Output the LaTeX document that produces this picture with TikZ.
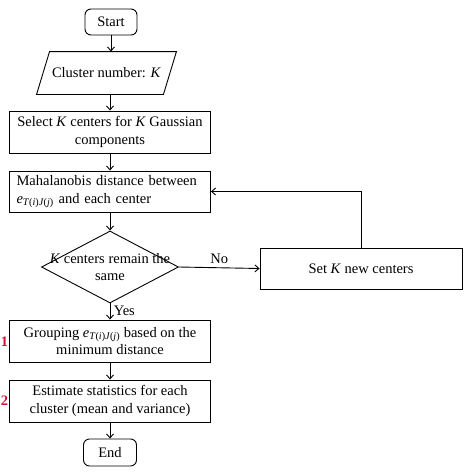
\documentclass[tikz,border=0pt]{standalone}
\usepackage{fontspec}
\setmainfont{Liberation Serif}
\usepackage{tikz}
\usetikzlibrary{shapes.geometric,arrows.meta}
\definecolor{stepred}{RGB}{210,20,60}
\newcommand{\eTJ}{\textit{e}\textsubscript{\textit{T}(\textit{i})\textit{J}(\textit{j})}}

\begin{document}
\begin{tikzpicture}[x=1pt,y=-1pt,
        font=\fontsize{14.5}{17.5}\selectfont,
        every path/.style={line width=0.9pt},
        terminal/.style={draw, rounded corners=6pt, minimum width=52pt, minimum height=26pt, inner sep=0pt},
        inputbox/.style={minimum width=139pt, minimum height=42pt, inner sep=0pt},
        process/.style={draw, minimum width=201pt, minimum height=42pt, inner sep=0pt, align=center},
        decision/.style={draw, diamond, minimum width=137pt, minimum height=72pt, inner sep=0pt},
        arrow/.style={-{Straight Barb[length=4pt,width=7pt]}},
        stepnum/.style={text=stepred, inner sep=0pt, anchor=west, font=\fontsize{14.5}{17.5}\selectfont\bfseries}]
        \useasboundingbox (0,0) rectangle (474,474);
        % nodes
        \node[terminal] (start) at (111,22) {Start};
        \node[inputbox] (input) at (106.5,73) {Cluster number: \textit{K}};
        \draw ([xshift=13pt]input.north west) -- (input.north east) -- ([xshift=-13pt]input.south east) -- (input.south west) -- cycle;
        \node[process] (select) at (110,132) {Select \textit{K} centers for \textit{K} Gaussian\\components};
        \node[process, align=left, text width=187pt, minimum height=41pt] (maha) at (110,191.5) {Mahalanobis distance between\\\eTJ{} and each center};
        \node[decision, label={[align=center]center:\textit{K} centers remain the\\same}] (check) at (110,267) {};
        \node[process, minimum width=202pt, minimum height=41pt] (newk) at (361,268.5) {Set \textit{K} new centers};
        \node[process] (group) at (110,341) {Grouping \eTJ{} based on the\\minimum distance};
        \node[process] (estim) at (110,401) {Estimate statistics for each\\cluster (mean and variance)};
        \node[terminal, minimum width=53pt, minimum height=27pt] (end) at (110,452.5) {End};
        \node[stepnum] (num1) at (0.5,342) {1};
        \node[stepnum] (num2) at (0.5,401) {2};
        % connectors
        \draw[arrow] (start.south) -- (start.south |- input.north);
        \draw[arrow] (input.south -| select.north) -- (select.north);
        \draw[arrow] (select) -- (maha);
        \draw[arrow] (maha) -- (check);
        \draw[arrow] (check.east) -- node[above] {No} (newk.west);
        \draw[arrow] (newk.north) |- (maha.east);
        \draw[arrow] (check.south) -- node[right, pos=0.45] {Yes} (group.north);
        \draw[arrow] (group) -- (estim);
        \draw[arrow] (estim) -- (end);
    \end{tikzpicture}
\end{document}
